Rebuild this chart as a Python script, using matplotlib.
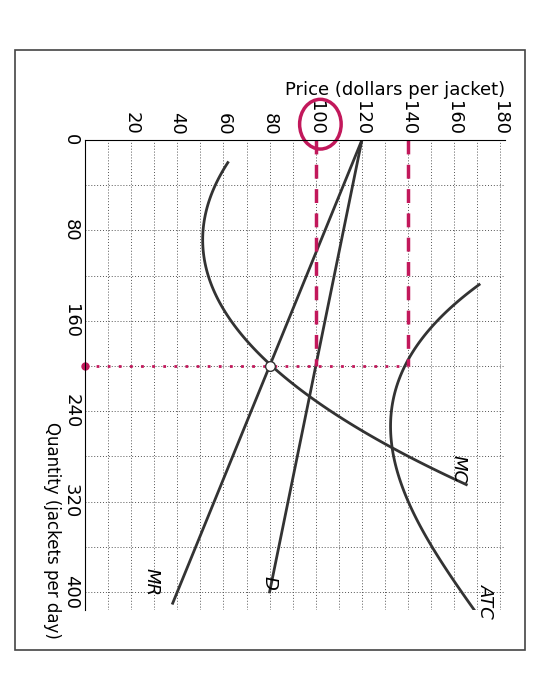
import numpy as np
import matplotlib.pyplot as plt
from matplotlib.patches import Rectangle, Ellipse

price_ticks = [20, 40, 60, 80, 100, 120, 140, 160, 180]
qty_ticks = [0, 80, 160, 240, 320, 400]

d_q = [0, 400]
d_p = [120, 80]
mr_q = [0, 410]
mr_p = [120, 38]
mc_q = [20, 50, 100, 150, 200, 250, 305]
mc_p = [62, 54, 52, 60, 80, 115, 165]
atc_q = [128, 160, 200, 250, 300, 360, 425]
atc_p = [172, 150, 140, 133, 136, 150, 172]

W, H = 554, 700
fig = plt.figure(figsize=(W / 100, H / 100), dpi=100)
fig.patches.append(Rectangle((15 / W, 50 / H), 510 / W, 600 / H, transform=fig.transFigure,
                             fill=False, ec="#444", lw=1.2))
ax = fig.add_axes([85 / W, 1 - 610 / H, 420 / W, 470 / H])
ax.set_xlim(0, 182)
ax.set_ylim(416, 0)

for p in range(10, 181, 10):
    ax.axvline(p, color="#555", lw=0.7, ls=(0, (1, 2)))
for q in range(40, 420, 40):
    ax.axhline(q, color="#555", lw=0.7, ls=(0, (1, 2)))

ax.plot(d_p, d_q, color="#333", lw=2)
ax.plot(mr_p, mr_q, color="#333", lw=2)
qs = np.linspace(mc_q[0], mc_q[-1], 100)
ax.plot(np.poly1d(np.polyfit(mc_q, mc_p, 3))(qs), qs, color="#333", lw=2)
qa = np.linspace(atc_q[0], atc_q[-1], 100)
ax.plot(np.poly1d(np.polyfit(atc_q, atc_p, 3))(qa), qa, color="#333", lw=2)

mag = "#c2185b"
ax.plot([100, 100], [0, 200], color=mag, lw=2.5, ls=(0, (4, 3)))
ax.plot([140, 140], [0, 200], color=mag, lw=2.5, ls=(0, (4, 3)))
ax.plot([0, 140], [200, 200], color=mag, lw=2, ls=(0, (1, 3)))
ax.plot([0], [200], "o", color=mag, ms=5, clip_on=False)
ax.plot([80], [200], "o", mfc="white", mec="#333", ms=7)

ax.spines["right"].set_visible(False)
ax.spines["bottom"].set_visible(False)
ax.xaxis.tick_top()
ax.set_xticks(price_ticks)
ax.set_xticklabels(price_ticks, rotation=-90, fontsize=13)
ax.set_yticks(qty_ticks)
ax.set_yticklabels(qty_ticks, rotation=-90, fontsize=13, va="center")
ax.tick_params(length=0)
ax.xaxis.set_label_position("top")
ax.set_xlabel("Price (dollars per jacket)", fontsize=13, loc="right")
fig.text(52 / W, 1 - 530 / H, "Quantity (jackets per day)", fontsize=12, rotation=-90,
         ha="center", va="center")

ax.add_patch(Ellipse((102, -14), 18, 44, fill=False, ec=mag, lw=2.5, clip_on=False))
ax.text(158, 300, "MC", rotation=-90, fontsize=13, style="italic")
ax.text(170, 420, "ATC", rotation=-90, fontsize=13, style="italic", clip_on=False)
ax.text(76, 395, "D", rotation=-90, fontsize=13, style="italic")
ax.text(25, 400, "MR", rotation=-90, fontsize=13, style="italic")

fig.savefig("out.png", dpi=100)
